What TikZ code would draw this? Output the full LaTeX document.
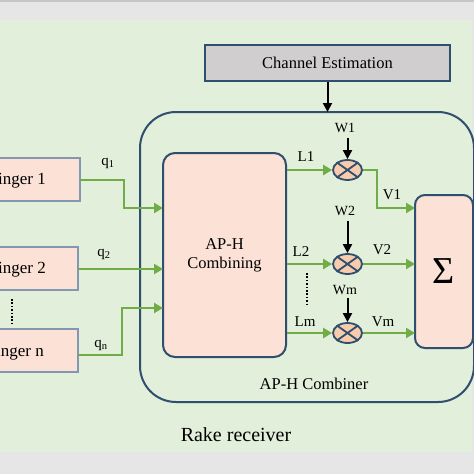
\documentclass[tikz,border=0pt]{standalone}
\usepackage{fontspec}
\setmainfont{Liberation Serif}
\usetikzlibrary{arrows.meta,shapes.geometric}
\definecolor{bggreen}{HTML}{E2EFDA}
\definecolor{bandgray}{HTML}{E6E6E6}
\definecolor{pinkfill}{HTML}{FBE1D6}
\definecolor{mulfill}{HTML}{F8CBAD}
\definecolor{chgray}{HTML}{D0CECE}
\definecolor{edgeblue}{HTML}{2E4F6E}
\definecolor{fingeredge}{HTML}{8497B0}
\definecolor{arrgreen}{HTML}{70AD47}
\tikzset{
  greenarrow/.style={draw=arrgreen,line width=2.3pt,-{Triangle[length=9pt,width=10pt]}},
  blackarrow/.style={draw=black,line width=2pt,-{Triangle[length=9pt,width=9pt]}},
  fingerbox/.style={draw=fingeredge,fill=pinkfill,line width=1.8pt},
  lbl/.style={font=\fontsize{15}{17}\selectfont,inner sep=0pt},
  wlbl/.style={font=\fontsize{14}{16}\selectfont,inner sep=0pt},
  mult/.style={ellipse,draw=edgeblue,fill=mulfill,line width=1.8pt,minimum width=29pt,minimum height=20pt,inner sep=0pt},
  dotsv/.style={draw=black,line width=2.6pt,dash pattern=on 1.6pt off 1.8pt}
}
\begin{document}
\begin{tikzpicture}[x=1pt,y=-1pt]
\useasboundingbox (0,0) rectangle (474,474);
\clip (0,0) rectangle (474,474);
% background bands
\fill[bandgray] (0,0) rectangle (474,474);
\fill[gray!45] (0,0) rectangle (474,2);
\fill[bggreen] (0,20) rectangle (472,452);
% channel estimation
\node[draw=edgeblue,fill=chgray,line width=1.8pt,minimum width=245pt,minimum height=36pt,inner sep=0pt,font=\fontsize{16.5}{18}\selectfont] (ch) at (327.5,63) {Channel Estimation};
% container
\draw[edgeblue,line width=2pt,rounded corners=36pt] (140,112) rectangle (474,402);
\coordinate (ctop) at (327.5,112);
\draw[blackarrow] (ch.south) -- (ctop);
\node[font=\fontsize{16.5}{18}\selectfont] (combiner) at (314,384) {AP-H Combiner};
% fingers
\draw[fingerbox] (-40,158) rectangle (80,201);
\draw[fingerbox] (-40,247) rectangle (78,290);
\draw[fingerbox] (-40,329) rectangle (78,372);
\coordinate (f1) at (80,180);
\coordinate (f2) at (78,269);
\coordinate (fn) at (78,355);
\node[anchor=east,font=\fontsize{17}{19}\selectfont,inner sep=0pt] (t1) at (46,181) {Finger 1};
\node[anchor=east,font=\fontsize{17}{19}\selectfont,inner sep=0pt] (t2) at (46,270) {Finger 2};
\node[anchor=east,font=\fontsize{17}{19}\selectfont,inner sep=0pt] (tn) at (44,353) {Finger n};
\coordinate (fd1) at (12,299);
\coordinate (fd2) at (12,323);
\draw[dotsv] (fd1) -- (fd2);
% AP-H combining
\node[draw=edgeblue,fill=pinkfill,line width=2pt,rounded corners=12pt,minimum width=123pt,minimum height=204pt,inner sep=0pt,align=center,font=\fontsize{16.5}{19}\selectfont] (aph) at (224.5,255) {AP-H\\Combining};
% q connections
\coordinate (in1) at (163,208);
\coordinate (in2) at (163,269);
\coordinate (in3) at (163,308);
\draw[greenarrow] (f1) -- (124,180) -- (124,208) -- (in1);
\draw[greenarrow] (f2) -- (in2);
\draw[greenarrow] (fn) -- (122,355) -- (122,308) -- (in3);
\node[lbl] (q1) at (108,163) {q\textsubscript{1}};
\node[lbl] (q2) at (104,254) {q\textsubscript{2}};
\node[lbl] (qn) at (101,345) {q\textsubscript{n}};
% multipliers
\node[mult] (m1) at (347.5,170) {};
\node[mult] (m2) at (347.5,264) {};
\node[mult] (m3) at (347.5,333) {};
\foreach \m in {m1,m2,m3}{
  \draw[edgeblue,line width=1.8pt] (\m.north west) -- (\m.south east);
  \draw[edgeblue,line width=1.8pt] (\m.south west) -- (\m.north east);
}
% L lines
\draw[greenarrow] (aph.east |- m1) -- (m1.west);
\draw[greenarrow] (aph.east |- m2) -- (m2.west);
\draw[greenarrow] (aph.east |- m3) -- (m3.west);
\node[lbl] (l1) at (306,157) {L1};
\node[lbl] (l2) at (301,252) {L2};
\node[lbl] (lm) at (305,322) {Lm};
\coordinate (ld1) at (307,273);
\coordinate (ld2) at (307,304);
\draw[dotsv] (ld1) -- (ld2);
% W
\node[wlbl] (w1) at (345,128) {W1};
\node[wlbl] (w2) at (345,211) {W2};
\node[wlbl] (wm) at (345,290) {Wm};
\draw[blackarrow] (w1.south -| m1) ++(0,5) -- (m1.north);
\draw[blackarrow] (w2.south -| m2) ++(0,5) -- (m2.north);
\draw[blackarrow] (wm.south -| m3) ++(0,3) -- (m3.north);
% sigma
\node[draw=edgeblue,fill=pinkfill,line width=2pt,rounded corners=10pt,minimum width=58pt,minimum height=153pt,inner sep=0pt,font=\fontsize{38}{40}\selectfont] (sig) at (444,271.5) {Σ};
\coordinate (s1) at (415,208);
\coordinate (s2) at (415,264);
\coordinate (s3) at (415,333);
\draw[greenarrow] (m1.east) -- (377,170) -- (377,208) -- (s1);
\draw[greenarrow] (m2.east) -- (s2);
\draw[greenarrow] (m3.east) -- (s3);
\node[lbl] (v1) at (392,195) {V1};
\node[lbl] (v2) at (382,250) {V2};
\node[lbl] (vm) at (383,322) {Vm};
% caption
\node[font=\fontsize{20}{22}\selectfont] (rake) at (236,435) {Rake receiver};
\end{tikzpicture}
\end{document}
